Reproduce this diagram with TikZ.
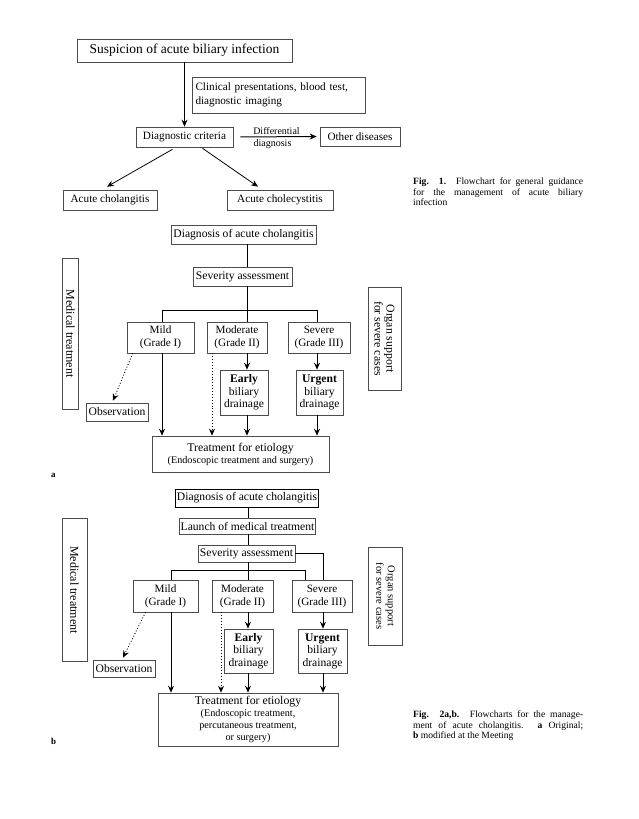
\documentclass[tikz,border=0pt]{standalone}
\usepackage{fontspec}
\setmainfont{Liberation Serif}
\usetikzlibrary{arrows.meta,calc}
\begin{document}
\begin{tikzpicture}[x=1pt,y=-1pt,
  box/.style={draw=black!70,line width=0.6pt,inner sep=1pt,align=center},
  conn/.style={line width=1pt,black},
  arr/.style={conn,-{Stealth[length=7pt,width=6pt]}},
  dotarr/.style={line width=0.9pt,dotted,-{Stealth[length=7pt,width=6pt]}},
  fa/.style={font=\fontsize{11.2}{13}\selectfont},
  fb/.style={font=\fontsize{11.6}{13.5}\selectfont},
  fg/.style={font=\fontsize{11.2}{13}\selectfont},
  captext/.style={anchor=north west,inner sep=0pt,text width=170pt,align=justify,font=\fontsize{9.6}{10.5}\selectfont},
]
\useasboundingbox (0,0) rectangle (638,819);
\fill[white] (0,0) rectangle (638,819);

% ---------------- Fig. 1 ----------------
\node[box,minimum width=215pt,minimum height=23pt,font=\fontsize{13.5}{15}\selectfont] (sus) at (184.5,50.5) {Suspicion of acute biliary infection};
\node[box,minimum width=173pt,minimum height=36pt,align=left,font=\fontsize{11.2}{14}\selectfont,text width=166pt] (clin) at (278.5,95) {Clinical presentations, blood test,\\diagnostic imaging};
\node[box,fa,minimum width=97pt,minimum height=20pt] (dc) at (184.5,137) {Diagnostic criteria};
\node[box,fa,minimum width=80pt,minimum height=19pt] (oth) at (360,136.5) {Other diseases};
\node[box,fa,minimum width=94pt,minimum height=20pt] (ach) at (110,200) {Acute cholangitis};
\node[box,fa,minimum width=106pt,minimum height=20pt] (acc) at (280,200) {Acute cholecystitis};

\draw[arr] (sus.south) -- (dc.north);
\draw[arr,shorten <=7pt,shorten >=3pt] (dc.east) -- (oth.west)
  node[midway,above=-1.5pt,font=\fontsize{10}{11}\selectfont] (dlab1) {Differential}
  node[midway,below=-1.5pt,xshift=-4pt,font=\fontsize{10}{11}\selectfont] (dlab2) {diagnosis};
\draw[line width=0.8pt,-{Stealth[length=7pt,width=6pt]}] ([xshift=-12pt,yshift=-2pt]dc.south) -- ([xshift=-3pt,yshift=3pt]ach.north);
\draw[line width=0.8pt,-{Stealth[length=7pt,width=6pt]}] ([xshift=18pt,yshift=-1pt]dc.south) -- ([xshift=-22pt,yshift=3pt]acc.north);

\node[captext] (cap1) at (413,178) {\textbf{Fig. 1.} Flowchart for general guidance\linebreak for the management of acute biliary\linebreak infection};

% ---------------- Fig. 2a ----------------
\node[box,fb,minimum width=145pt,minimum height=19pt] (d2a) at (243.5,234.5) {Diagnosis of acute cholangitis};
\node[box,fb,minimum width=99pt,minimum height=19pt] (sa) at (242.5,276.5) {Severity assessment};
\node[box,fg,minimum width=67pt,minimum height=31pt] (mildA) at (160.5,337.5) {Mild\\(Grade I)};
\node[box,fg,minimum width=60pt,minimum height=31pt] (modA) at (237,337.5) {Moderate\\(Grade II)};
\node[box,fg,minimum width=62pt,minimum height=31pt] (sevA) at (319,337.5) {Severe\\(Grade III)};
\node[box,fb,minimum width=48pt,minimum height=45pt,font=\fontsize{11.6}{12.5}\selectfont] (earlyA) at (244,392.5) {\textbf{Early}\\biliary\\drainage};
\node[box,fb,minimum width=47pt,minimum height=45pt,font=\fontsize{11.6}{12.5}\selectfont] (urgA) at (319.5,392.5) {\textbf{Urgent}\\biliary\\drainage};
\node[box,minimum width=177pt,minimum height=36pt] (treatA) at (240.5,454) {{\fontsize{11.8}{15}\selectfont Treatment for etiology}\\{\fontsize{10.2}{12}\selectfont (Endoscopic treatment and surgery)}};
\node[box,fb,minimum width=62pt,minimum height=18pt] (obsA) at (117,412) {Observation};
\node[box,rotate=-90,minimum width=151pt,minimum height=16pt,font=\fontsize{12}{13}\selectfont] (medA) at (70.5,333.5) {Medical treatment};
\node[box,rotate=-90,minimum width=103pt,minimum height=33pt,font=\fontsize{11.8}{10.5}\selectfont] (orgA) at (384.5,338.5) {Organ support\\for severe cases};
\node[anchor=west,inner sep=0pt,font=\bfseries\fontsize{9}{10}\selectfont] (la) at (51,475) {a};

\coordinate (spA) at (247,0);
\coordinate (bAl) at (162,310);
\coordinate (bAr) at (317,310);
\coordinate (dA) at (212,0);
\draw[conn] (d2a.south -| spA) -- (sa.north -| spA);
\draw[conn] (sa.south -| spA) -- (modA.north -| spA);
\draw[conn] (mildA.north -| bAl) -- (bAl) -- (bAr) -- (sevA.north -| bAr);
\draw[arr] (modA.south -| spA) -- (earlyA.north -| spA);
\draw[arr] (sevA.south -| bAr) -- (urgA.north -| bAr);
\draw[arr] (mildA.south -| bAl) -- (treatA.north -| bAl);
\draw[arr] (earlyA.south -| spA) -- (treatA.north -| spA);
\draw[arr] (urgA.south -| bAr) -- (treatA.north -| bAr);
\draw[dotarr] (modA.south -| dA) -- (treatA.north -| dA);
\draw[dotarr] ([xshift=6pt]mildA.south west) -- ([xshift=-4pt,yshift=2pt]obsA.north);

% ---------------- Fig. 2b ----------------
\node[box,fb,draw=black,line width=0.9pt,minimum width=142pt,minimum height=18pt] (d2b) at (247,498) {Diagnosis of acute cholangitis};
\node[box,fb,minimum width=135pt,minimum height=16pt] (lb) at (247.5,526) {Launch of medical treatment};
\node[box,fb,minimum width=97pt,minimum height=17pt] (sb) at (246.5,553.5) {Severity assessment};
\node[box,fg,minimum width=65pt,minimum height=32pt] (mildB) at (165.5,596) {Mild\\(Grade I)};
\node[box,fg,minimum width=61pt,minimum height=32pt] (modB) at (242.5,596) {Moderate\\(Grade II)};
\node[box,fg,minimum width=60pt,minimum height=32pt] (sevB) at (322,596) {Severe\\(Grade III)};
\node[box,minimum width=49pt,minimum height=44pt,font=\fontsize{11.6}{12.5}\selectfont] (earlyB) at (248.5,651) {\textbf{Early}\\biliary\\drainage};
\node[box,minimum width=49pt,minimum height=44pt,font=\fontsize{11.6}{12.5}\selectfont] (urgB) at (322.5,651) {\textbf{Urgent}\\biliary\\drainage};
\node[box,minimum width=180pt,minimum height=53pt] (treatB) at (248,719.5) {{\fontsize{11.8}{13}\selectfont Treatment for etiology}\\{\fontsize{10.2}{12}\selectfont (Endoscopic treatment,}\\{\fontsize{10.2}{12}\selectfont percutaneous treatment,}\\{\fontsize{10.2}{12}\selectfont or surgery)}};
\node[box,fb,minimum width=62pt,minimum height=17pt] (obsB) at (124,668.5) {Observation};
\node[box,rotate=-90,minimum width=143pt,minimum height=25pt,font=\fontsize{12}{13}\selectfont] (medB) at (74.5,590) {Medical treatment};
\node[box,rotate=-90,minimum width=98pt,minimum height=34pt,font=\fontsize{10.5}{11.5}\selectfont] (orgB) at (385.5,596) {Organ support\\for severe cases};
\node[anchor=west,inner sep=0pt,font=\bfseries\fontsize{9}{10}\selectfont] (lbl) at (51,741) {b};

\coordinate (spB) at (248,0);
\coordinate (bBl) at (171,570);
\coordinate (bBr) at (305,570);
\coordinate (sdB) at (323,0);
\coordinate (dB) at (221,0);
\draw[conn] (d2b.south -| spB) -- (lb.north -| spB);
\draw[conn] (lb.south -| spB) -- (sb.north -| spB);
\draw[conn] (sb.south -| spB) -- (modB.north -| spB);
\draw[conn] (mildB.north -| bBl) -- (bBl) -- (bBr) -- (sevB.north -| bBr);
\draw[conn] (sb.east) -- (sb.east -| sdB) -- (sevB.north -| sdB);
\draw[arr] (modB.south -| spB) -- (earlyB.north -| spB);
\draw[arr] (sevB.south -| sdB) -- (urgB.north -| sdB);
\draw[arr] (mildB.south -| bBl) -- (treatB.north -| bBl);
\draw[arr] (earlyB.south -| spB) -- (treatB.north -| spB);
\draw[arr] (urgB.south -| sdB) -- (treatB.north -| sdB);
\draw[dotarr] (modB.south -| dB) -- (treatB.north -| dB);
\draw[dotarr] ([xshift=-20pt]mildB.south) -- ([xshift=-1pt,yshift=2pt]obsB.north);

\node[captext] (cap2) at (413,711) {\textbf{Fig. 2a,b.} Flowcharts for the manage-\linebreak ment of acute cholangitis. \textbf{a} Original;\linebreak \textbf{b} modified at the Meeting};
\end{tikzpicture}
\end{document}
